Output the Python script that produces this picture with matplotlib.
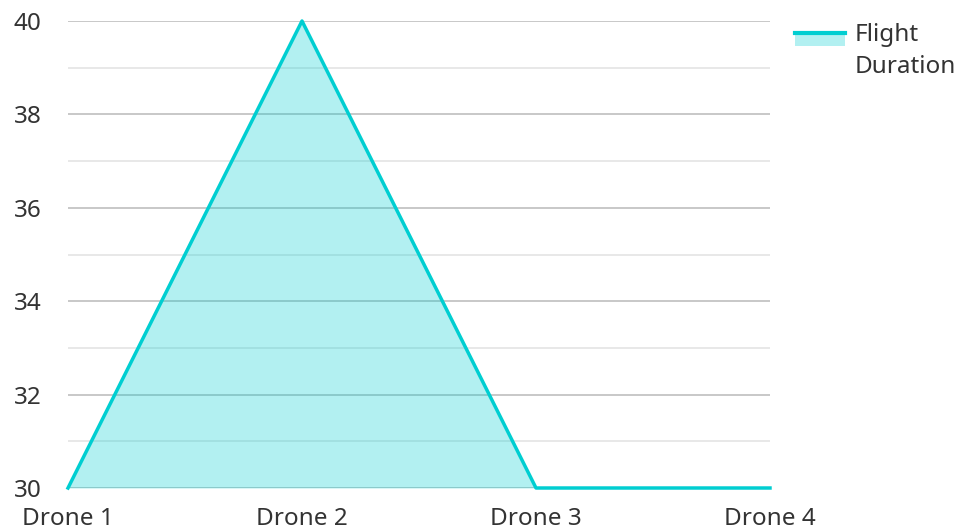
import matplotlib.pyplot as plt
from matplotlib.lines import Line2D
from matplotlib.patches import Rectangle

plt.rcParams["font.family"] = ["Noto Sans", "DejaVu Sans"]

drones = ["Drone 1", "Drone 2", "Drone 3", "Drone 4"]
duration = [30, 40, 30, 30]
series_name = "Flight\nDuration"

line_color = "#00CED1"
text_color = "#333333"

fig = plt.figure(figsize=(9.6, 5.29), dpi=100)
ax = fig.add_axes([68 / 960, 1 - 488 / 529, (770 - 68) / 960, (488 - 21) / 529])

x = list(range(len(drones)))
ax.fill_between(x, duration, 30, color=line_color, alpha=0.3, linewidth=0, zorder=2)
ax.plot(x, duration, color=line_color, linewidth=2.5, zorder=3, clip_on=False)

ax.set_xlim(0, len(drones) - 1)
ax.set_ylim(30, 40)
ax.set_xticks(x)
ax.set_xticklabels(drones)
ax.set_yticks([30, 32, 34, 36, 38, 40])
ax.set_yticks([31, 33, 35, 37, 39], minor=True)

ax.grid(axis="y", which="major", color="#c4c4c4", linewidth=1.3, zorder=0)
ax.grid(axis="y", which="minor", color="#e4e4e4", linewidth=1.2, zorder=0)
ax.set_axisbelow(True)

for s in ax.spines.values():
    s.set_visible(False)
ax.tick_params(axis="both", which="both", length=0, labelsize=17.5, colors=text_color)
ax.tick_params(axis="y", pad=19)
ax.tick_params(axis="x", pad=13.5)

# legend: shaded box with the line on its top edge
W, H = 960, 529
fig.patches.append(Rectangle((795 / W, 1 - 46 / H), 50 / W, 13 / H,
                             transform=fig.transFigure, facecolor=line_color,
                             alpha=0.3, edgecolor="none"))
fig.lines.append(Line2D([795 / W, 845 / W], [1 - 33 / H, 1 - 33 / H],
                        transform=fig.transFigure, color=line_color, linewidth=3))
fig.text(855 / W, 1 - 73 / H, series_name, fontsize=17.5, color=text_color,
         ha="left", va="baseline", linespacing=1.45)

fig.savefig("out.png", dpi=100)
